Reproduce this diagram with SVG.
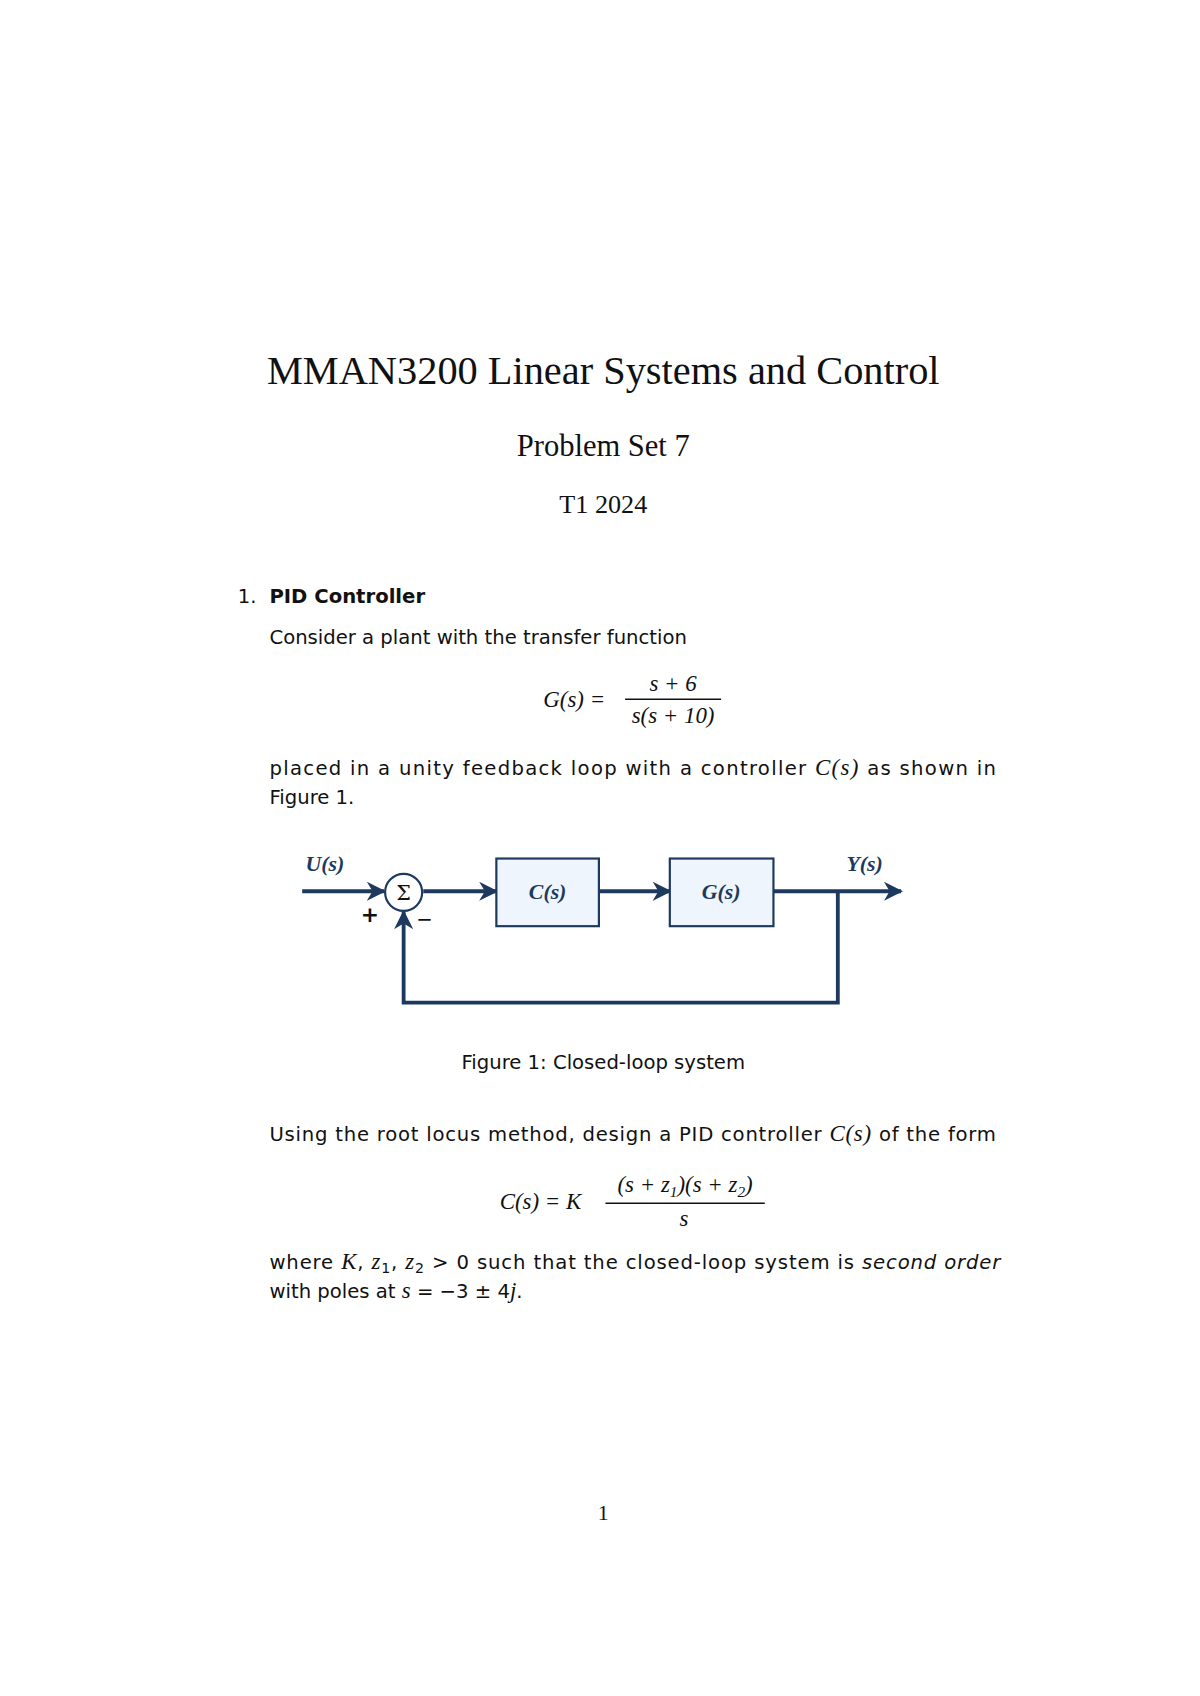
<svg xmlns="http://www.w3.org/2000/svg" width="1200" height="1696" viewBox="0 0 1200 1696">
<defs>
<style>
.serif{font-family:"Liberation Serif","DejaVu Serif",serif;fill:#111}
.sans{font-family:"DejaVu Sans","Liberation Sans",sans-serif;font-size:18px;fill:#111}
.mi{font-family:"Liberation Serif",serif;font-style:italic;font-size:21px;fill:#111}
.ln{stroke:#1d3a5e;stroke-width:3.5;fill:none}
.box{fill:#eef5fc;stroke:#1d3a5e;stroke-width:2}
.lbl{font-family:"Liberation Serif",serif;font-style:italic;font-weight:bold;font-size:20px;fill:#1d3a5e}
</style>
<marker id="ah" viewBox="0 0 10 10" refX="9" refY="5" markerWidth="5" markerHeight="5" orient="auto" markerUnits="strokeWidth"><path d="M0,0 L10,5 L0,10 L3,5 z" fill="#1d3a5e"/></marker>
</defs>
<rect width="1200" height="1696" fill="#fff"/>
<g transform="scale(1.0909)">
<text class="serif" x="553" y="352" font-size="37" text-anchor="middle">MMAN3200 Linear Systems and Control</text>
<text class="serif" x="553" y="418" font-size="28" text-anchor="middle">Problem Set 7</text>
<text class="serif" x="553" y="470" font-size="24" text-anchor="middle">T1 2024</text>
<text class="sans" x="218" y="553">1.</text>
<text class="sans" x="247" y="553" font-weight="bold">PID Controller</text>
<text class="sans" x="247" y="590">Consider a plant with the transfer function</text>
<text class="mi" x="498" y="648">G(s) =</text>
<text class="mi" x="617" y="633" text-anchor="middle">s + 6</text>
<line x1="573" y1="641" x2="661" y2="641" stroke="#111" stroke-width="1.2"/>
<text class="mi" x="617" y="663" text-anchor="middle">s(s + 10)</text>
<text class="sans" x="247" y="710" textLength="666" lengthAdjust="spacing">placed in a unity feedback loop with a controller <tspan class="mi">C(s)</tspan> as shown in</text>
<text class="sans" x="247" y="737">Figure 1.</text>

<g id="connectors">
<line class="ln" x1="277" y1="817" x2="352" y2="817" marker-end="url(#ah)"/>
<line class="ln" x1="388" y1="817" x2="455" y2="817" marker-end="url(#ah)"/>
<line class="ln" x1="549" y1="817" x2="614" y2="817" marker-end="url(#ah)"/>
<line class="ln" x1="709" y1="817" x2="826" y2="817" marker-end="url(#ah)"/>
<polyline class="ln" points="768,817 768,919 370,919 370,836" marker-end="url(#ah)"/>
</g>
<g id="sum"><circle cx="370" cy="818" r="17" fill="#fff" stroke="#1d3a5e" stroke-width="2"/><text x="370" y="825" text-anchor="middle" font-family="DejaVu Serif,serif" font-size="19" fill="#111">Σ</text></g>
<g id="C"><rect class="box" x="455" y="787" width="94" height="62"/><text class="lbl" x="502" y="824" text-anchor="middle">C(s)</text></g>
<g id="G"><rect class="box" x="614" y="787" width="95" height="62"/><text class="lbl" x="661" y="824" text-anchor="middle">G(s)</text></g>
<text class="lbl" x="280" y="798">U(s)</text>
<text class="lbl" x="776" y="798">Y(s)</text>
<text x="339" y="845" text-anchor="middle" font-family="DejaVu Sans,sans-serif" font-weight="bold" font-size="20" fill="#111">+</text>
<text x="389" y="849" text-anchor="middle" font-family="DejaVu Sans,sans-serif" font-size="18" fill="#111">−</text>

<text class="sans" x="553" y="980" text-anchor="middle">Figure 1: Closed-loop system</text>
<text class="sans" x="247" y="1046" textLength="666" lengthAdjust="spacing">Using the root locus method, design a PID controller <tspan class="mi">C(s)</tspan> of the form</text>
<text class="mi" x="458" y="1108">C(s) = K</text>
<text class="mi" x="628" y="1093" text-anchor="middle">(s + z<tspan font-size="14" dy="4">1</tspan><tspan dy="-4">)(s + z</tspan><tspan font-size="14" dy="4">2</tspan><tspan dy="-4">)</tspan></text>
<line x1="555" y1="1103" x2="701" y2="1103" stroke="#111" stroke-width="1.2"/>
<text class="mi" x="627" y="1124" text-anchor="middle">s</text>
<text class="sans" x="247" y="1163" textLength="670" lengthAdjust="spacing">where <tspan class="mi">K</tspan>, <tspan class="mi">z</tspan><tspan font-size="13" dy="4">1</tspan><tspan dy="-4">, </tspan><tspan class="mi">z</tspan><tspan font-size="13" dy="4">2</tspan><tspan dy="-4"> &gt; 0 such that the closed-loop system is </tspan><tspan font-style="italic">second order</tspan></text>
<text class="sans" x="247" y="1190">with poles at <tspan class="mi">s</tspan> = −3 ± 4<tspan class="mi">j</tspan>.</text>
<text class="serif" x="553" y="1393" font-size="20" text-anchor="middle">1</text>
</g>
</svg>
